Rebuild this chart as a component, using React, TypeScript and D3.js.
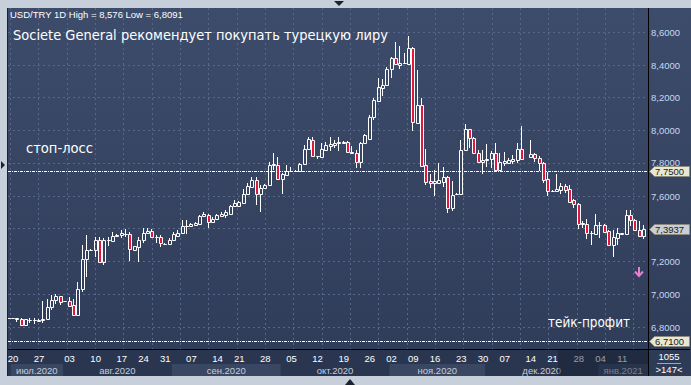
import React from 'react';
import * as d3 from 'd3';

const W = 691;
const H = 385;

// OHLC, one entry per bar (null = no bar)
const opens: (number | null)[] = [
  6.852, 6.851, 6.848, 6.849, 6.81, 6.84, 6.839, 6.834, 6.838, 6.849,
  6.92, 6.965, 6.985, 6.955, 6.96, 6.93, 6.869, 7.032, 7.216, 7.268,
  7.27, 7.33, 7.195, 7.33, 7.325, 7.356, 7.362, 7.366, 7.365, 7.27,
  7.287, 7.33, 7.37, 7.385, 7.35, 7.345, 7.307, 7.305, 7.33, 7.355,
  7.37, 7.415, 7.415, 7.42, 7.43, 7.475, 7.48, 7.44, 7.46, 7.478,
  7.48, 7.49, 7.538, 7.54, 7.556, 7.613, 7.655, 7.695, 7.613, 7.65,
  7.665, 7.79, 7.79, 7.7, 7.728, 7.752, 7.752, 7.752, 7.793, 7.888,
  7.94, 7.84, 7.837, 7.882, 7.903, 7.909, 7.925, 7.92, 7.93, 7.87,
  7.858, 7.807, 7.923, 7.944, 8.078, 8.18, 8.26, 8.276, 8.372, 8.439,
  8.4, 8.41, 8.404, 8.5, 8.045, 8.153, 7.787, 7.69, 7.675, 7.678,
  7.685, 7.715, 7.528, 7.61, 7.613, 7.882, 8.005, 7.95, 7.862, 7.807,
  7.817, 7.827, 7.858, 7.76, 7.801, 7.8, 7.813, 7.821, 7.888, null,
  7.838, 7.854, 7.833, 7.801, 7.7, 7.628, 7.628, 7.636, 7.66, 7.64,
  7.573, 7.548, 7.43, 7.43, 7.375, 7.369, 7.42, 7.42, 7.385, 7.297,
  7.344, 7.369, 7.369, 7.481, 7.454, 7.393, 7.352,
];
const highs: (number | null)[] = [
  6.855, 6.855, 6.856, 6.853, 6.849, 6.851, 6.852, 6.846, 6.957, 6.971,
  6.995, 7.002, 6.99, 6.96, 6.98, 6.971, 7.073, 7.3, 7.36, 7.275,
  7.345, 7.35, 7.34, 7.35, 7.38, 7.368, 7.39, 7.395, 7.38, 7.295,
  7.345, 7.4, 7.4, 7.395, 7.36, 7.36, 7.31, 7.34, 7.38, 7.39,
  7.45, 7.45, 7.435, 7.44, 7.485, 7.5, 7.49, 7.47, 7.49, 7.5,
  7.51, 7.545, 7.575, 7.57, 7.644, 7.675, 7.715, 7.715, 7.665, 7.67,
  7.807, 7.862, 7.838, 7.74, 7.787, 7.775, 7.758, 7.8, 7.909, 7.956,
  7.956, 7.845, 7.919, 7.93, 7.96, 7.94, 7.96, 7.935, 7.935, 7.905,
  7.878, 7.93, 7.98, 8.092, 8.194, 8.317, 8.31, 8.388, 8.449, 8.541,
  8.514, 8.473, 8.576, 8.506, 8.368, 8.194, 7.888, 7.735, 7.756, 7.8,
  7.776, 7.72, 7.689, 7.615, 7.943, 8.04, 8.01, 7.96, 7.878, 7.878,
  7.915, 7.874, 7.919, 7.862, 7.868, 7.83, 7.848, 7.919, 8.025, null,
  7.94, 7.862, 7.84, 7.807, 7.746, 7.632, 7.732, 7.675, 7.672, 7.665,
  7.583, 7.553, 7.445, 7.46, 7.385, 7.491, 7.44, 7.43, 7.393, 7.389,
  7.405, 7.372, 7.515, 7.515, 7.46, 7.446, 7.42,
];
const lows: (number | null)[] = [
  6.848, 6.848, 6.836, 6.8091, 6.808, 6.826, 6.825, 6.826, 6.826, 6.847,
  6.91, 6.944, 6.94, 6.95, 6.92, 6.868, 6.868, 7.02, 7.11, 7.265,
  7.23, 7.19, 7.18, 7.3, 7.32, 7.35, 7.35, 7.355, 7.205, 7.268,
  7.2, 7.32, 7.365, 7.345, 7.32, 7.295, 7.304, 7.3, 7.33, 7.345,
  7.365, 7.375, 7.41, 7.415, 7.425, 7.47, 7.41, 7.435, 7.455, 7.475,
  7.47, 7.48, 7.535, 7.535, 7.552, 7.61, 7.65, 7.552, 7.507, 7.645,
  7.66, 7.766, 7.695, 7.617, 7.725, 7.75, 7.75, 7.748, 7.79, 7.88,
  7.838, 7.83, 7.833, 7.878, 7.88, 7.9, 7.88, 7.917, 7.864, 7.852,
  7.776, 7.776, 7.92, 7.94, 8.07, 8.175, 8.215, 8.27, 8.327, 8.398,
  8.378, 8.405, 8.398, 8.0, 8.041, 7.776, 7.674, 7.654, 7.603, 7.675,
  7.658, 7.501, 7.515, 7.605, 7.61, 7.878, 7.899, 7.854, 7.797, 7.74,
  7.78, 7.776, 7.752, 7.752, 7.79, 7.795, 7.8, 7.807, 7.817, null,
  7.833, 7.813, 7.756, 7.685, 7.603, 7.625, 7.625, 7.617, 7.62, 7.556,
  7.532, 7.405, 7.41, 7.344, 7.307, 7.365, 7.348, 7.373, 7.291, 7.234,
  7.307, 7.366, 7.365, 7.42, 7.385, 7.345, 7.34,
];
const closes: (number | null)[] = [
  6.851, 6.853, 6.853, 6.81, 6.845, 6.842, 6.84, 6.842, 6.85, 6.92,
  6.965, 6.985, 6.95, 6.958, 6.924, 6.869, 7.032, 7.216, 7.27, 7.27,
  7.33, 7.195, 7.33, 7.332, 7.355, 7.362, 7.37, 7.365, 7.272, 7.29,
  7.33, 7.37, 7.385, 7.35, 7.345, 7.31, 7.308, 7.33, 7.365, 7.375,
  7.415, 7.416, 7.43, 7.435, 7.475, 7.49, 7.44, 7.46, 7.48, 7.49,
  7.5, 7.538, 7.556, 7.56, 7.613, 7.658, 7.695, 7.613, 7.65, 7.665,
  7.79, 7.792, 7.7, 7.732, 7.752, 7.753, 7.753, 7.793, 7.888, 7.944,
  7.842, 7.841, 7.888, 7.909, 7.915, 7.925, 7.926, 7.93, 7.868, 7.858,
  7.807, 7.923, 7.97, 8.078, 8.184, 8.262, 8.276, 8.372, 8.439, 8.404,
  8.412, 8.411, 8.5, 8.052, 8.153, 7.78, 7.685, 7.676, 7.69, 7.694,
  7.715, 7.528, 7.607, 7.611, 7.882, 8.005, 7.95, 7.862, 7.803, 7.82,
  7.827, 7.858, 7.756, 7.807, 7.813, 7.817, 7.825, 7.888, 7.827, null,
  7.854, 7.833, 7.801, 7.695, 7.628, 7.629, 7.64, 7.66, 7.636, 7.562,
  7.548, 7.43, 7.431, 7.373, 7.37, 7.42, 7.421, 7.379, 7.297, 7.348,
  7.373, 7.37, 7.481, 7.454, 7.389, 7.352, 7.3937,
];

const dayTickIdx = [1, 7, 14, 20, 26, 31, 36, 42, 48, 53, 59, 65, 71, 77, 83, 88, 93, 98, 104, 109, 114, 120, 125, 131, 136, 141];
const dayTickLabels = ['20', '27', '03', '10', '17', '24', '31', '07', '14', '21', '28', '05', '12', '19', '26', '02', '09', '16', '23', '30', '07', '14', '21', '28', '04', '11'];
const monthStartIdx = [1, 13, 38, 63, 88, 110, 136];
const monthLabels = ['июл.2020', 'авг.2020', 'сен.2020', 'окт.2020', 'ноя.2020', 'дек.2020', 'янв.2021'];
const yTicks = [6.8, 7.0, 7.2, 7.4, 7.6, 7.8, 8.0, 8.2, 8.4, 8.6];
// 7,4000 is hidden behind the last-price tag in the reference
const yTickLabelsShown = [6.8, 7.0, 7.2, 7.6, 7.8, 8.0, 8.2, 8.4, 8.6];
const stopLoss = 7.75;
const takeProfit = 6.71;
const lastPrice = 7.3937;

const SANS = "'Liberation Sans', Arial, sans-serif";
const BIG = "'DejaVu Sans', Verdana, sans-serif";

export default function App() {
  const N = opens.length;
  const plotL = 8, plotR = 648, plotT = 8, plotB = 349.5, panelB = 376;
  const x = d3.scaleLinear().domain([0, N - 1]).range([8.6, 644]);
  const step = x(1) - x(0);
  const y = d3.scaleLinear().domain([6.8, 8.6]).range([326.7, 32]);
  const fmt = (v: number) => d3.format('.4f')(v).replace('.', ',');
  const gridX = d3.range(0, 23).map((n) => x(0.32 + 6.51 * n));

  const monthEdges = monthStartIdx.map((k) => x(k) - step / 2).concat([plotR]);

  const tag = (v: number, bg: string, key: string) => {
    const yy = Math.round(y(v)) + 0.5;
    return (
      <g key={key}>
        <path d={`M649.5,${yy} L654.5,${yy - 5} H689.5 V${yy + 5} H654.5 Z`} fill={bg} stroke="#8a8a80" />
        <text x={655} y={yy + 3.5} fontFamily={SANS} fontSize={9.5} fill="#1a1a1a">{fmt(v)}</text>
      </g>
    );
  };

  return (
    <svg width={W} height={H} style={{ position: 'absolute', left: 0, top: 0 }} xmlns="http://www.w3.org/2000/svg">
      <defs>
        <linearGradient id="bg" x1="0" y1="0" x2="0" y2="1">
          <stop offset="0" stopColor="#3d4c6b" />
          <stop offset="1" stopColor="#2f3c58" />
        </linearGradient>
        <clipPath id="plot">
          <rect x={plotL} y={plotT} width={plotR - plotL} height={plotB - plotT} />
        </clipPath>
      </defs>
      {/* outer frame */}
      <rect x={0} y={0} width={W} height={H} fill="#c7cfda" />
      <path d="M334,1 H344 L339,6 Z" fill="#1c2230" />
      <path d="M345,385 L350,379 L355,385 Z" fill="#1c2230" />
      <path d="M1,161 L5,165 L1,169 Z" fill="#1c2230" />
      {/* panel */}
      <rect x={7} y={8} width={W - 7} height={panelB - 8} fill="url(#bg)" />
      <line x1={7.5} x2={7.5} y1={8} y2={panelB} stroke="#1b2233" />
      {/* axis area */}
      <rect x={8} y={350} width={640} height={panelB - 350} fill="#2a3650" />
      {monthLabels.map((m, i) => (
        <rect key={'mb' + i} x={monthEdges[i]} y={364} width={monthEdges[i + 1] - monthEdges[i]} height={panelB - 364}
          fill={i % 2 === 0 ? '#44547391' : 'none'} />
      ))}
      <rect x={649} y={350} width={41} height={panelB - 350} fill="#2e3b56" />

      {/* grid */}
      <g clipPath="url(#plot)">
        {yTicks.map((t) => (
          <line key={'gy' + t} x1={plotL} x2={plotR} y1={Math.round(y(t)) + 0.5} y2={Math.round(y(t)) + 0.5}
            stroke="#56678a" strokeDasharray="2,3" />
        ))}
        {gridX.map((gx, i) => (
          <line key={'gx' + i} x1={Math.round(gx) + 0.5} x2={Math.round(gx) + 0.5} y1={plotT} y2={plotB}
            stroke="#56678a" strokeDasharray="2,3" />
        ))}
        {/* level lines */}
        {[stopLoss, takeProfit].map((v) => (
          <line key={'lv' + v} x1={plotL} x2={plotR} y1={Math.round(y(v)) + 0.5} y2={Math.round(y(v)) + 0.5}
            stroke="#ffffff" strokeDasharray="3,1,1,1" />
        ))}
        {/* candles */}
        {opens.map((o, i) => {
          const c = closes[i], h = highs[i], l = lows[i];
          if (o == null || c == null || h == null || l == null) return null;
          const n = Math.round(x(i));
          const top = Math.round(y(Math.max(o, c))) + 0.5;
          const bot = Math.round(y(Math.min(o, c))) + 0.5;
          const yh = Math.round(y(h));
          const yl = Math.round(y(l));
          const wx = n - 0.5;
          const up = c >= o;
          return (
            <g key={'c' + i}>
              {yh < top - 0.5 && <line x1={wx} x2={wx} y1={yh} y2={top} stroke="#ffffff" />}
              {yl > bot + 0.5 && <line x1={wx} x2={wx} y1={bot} y2={yl + 1} stroke="#ffffff" />}
              <path d={`M${n - 1.5},${top}H${n + 1.5}V${bot}H${n - 1.5}Z`} fill={up ? 'none' : '#e3173e'} stroke="#ffffff" />
            </g>
          );
        })}
      </g>

      {/* texts in plot */}
      <text x={10} y={18} fontFamily={SANS} fontSize={9.5} fill="#ffffff">USD/TRY 1D High = 8,576 Low = 6,8091</text>
      <text x={13} y={40} fontFamily={BIG} fontSize={14} fill="#ffffff" textLength={375} lengthAdjust="spacingAndGlyphs">
        Societe General рекомендует покупать турецкую лиру
      </text>
      <text x={26} y={153} fontFamily={BIG} fontSize={14} fill="#ffffff" textLength={67} lengthAdjust="spacingAndGlyphs">стоп-лосс</text>
      <text x={548} y={327} fontFamily={BIG} fontSize={14} fill="#ffffff" textLength={82} lengthAdjust="spacingAndGlyphs">тейк-профит</text>
      {/* pink arrow */}
      <g stroke="#e77fd2" strokeWidth={2} fill="none">
        <line x1={639} x2={639} y1={267} y2={276} />
        <path d="M635,271.5 L639,276 L643,271.5" />
      </g>

      {/* separators */}
      <line x1={648.5} x2={648.5} y1={8} y2={panelB} stroke="#000000" />
      <line x1={8} x2={690} y1={349.5} y2={349.5} stroke="#000000" />

      {/* right axis */}
      {yTickLabelsShown.map((t) => (
        <text key={'yl' + t} x={651} y={Math.round(y(t)) + (t === 7.8 ? 2.5 : 3.5)} fontFamily={SANS} fontSize={9.5} fill="#c3d8f2">{fmt(t)}</text>
      ))}
      {tag(stopLoss, '#e8e8d2', 't1')}
      {tag(lastPrice, '#c9ced6', 't2')}
      {tag(takeProfit, '#e8e8d2', 't3')}

      {/* bottom axis */}
      {dayTickIdx.map((k, i) => (
        <text key={'dt' + i} x={x(k)} y={361.5} textAnchor="middle" fontFamily={SANS} fontSize={9.5} fill="#ffffff">{dayTickLabels[i]}</text>
      ))}
      {monthLabels.map((m, i) => (
        <text key={'ml' + i} x={(monthEdges[i] + monthEdges[i + 1]) / 2} y={373.5} textAnchor="middle" fontFamily={SANS}
          fontSize={9.5} fill="#c6cedd">{m}</text>
      ))}
      <rect x={558} y={350} width={90} height={panelB - 350} fill="#151c2e" opacity={0.45} />
      <text x={669} y={360} textAnchor="middle" fontFamily={SANS} fontSize={9.5} fill="#ffffff">1055</text>
      <line x1={657} x2={681} y1={363.5} y2={363.5} stroke="#9aa6bc" />
      <text x={669} y={373} textAnchor="middle" fontFamily={SANS} fontSize={9.5} fill="#ffffff">&gt;147&lt;</text>
    </svg>
  );
}
